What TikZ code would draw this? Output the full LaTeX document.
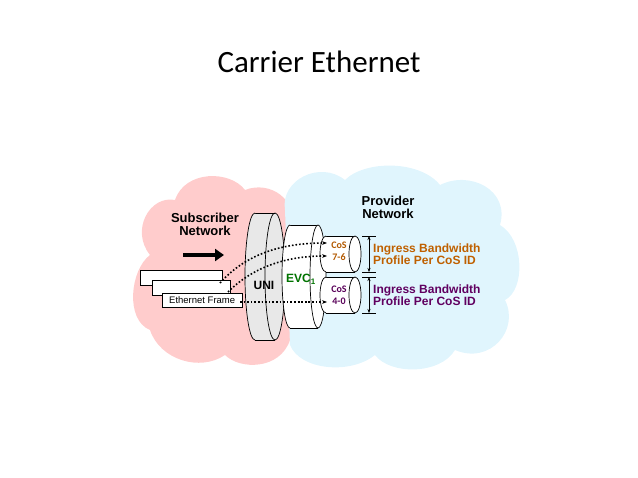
\documentclass[tikz,border=0pt]{standalone}
\usepackage{fontspec}
\setmainfont{Carlito}
\newfontfamily\lab{Liberation Sans}
\usetikzlibrary{arrows.meta}
\begin{document}
\begin{tikzpicture}[x=1pt,y=-1pt,
 dot/.style={line width=1.6pt,dotted,-{Stealth[length=5pt]}},
 cyl/.style={draw,line width=0.7pt},
 blab/.style={font=\lab\bfseries\fontsize{12}{12.5}\selectfont,align=left,anchor=west,inner sep=0pt}]
\useasboundingbox (0,0) rectangle (638,478);
\node (title) at (319,62) {\fontsize{31}{31}\selectfont Carrier Ethernet};
% clouds
\fill[red!20] (150,330) .. controls (125,320) and (130,270) .. (150,255)
 .. controls (130,230) and (150,195) .. (175,200) .. controls (185,170) and (230,170) .. (245,190)
 .. controls (270,180) and (300,200) .. (290,230) -- (290,340)
 .. controls (280,370) and (240,370) .. (225,355) .. controls (200,372) and (160,360) .. (150,330) -- cycle;
\fill[cyan!12] (285,210) .. controls (280,180) and (320,160) .. (345,180)
 .. controls (365,160) and (420,160) .. (440,185) .. controls (470,170) and (510,190) .. (500,225)
 .. controls (525,240) and (525,290) .. (505,300) .. controls (520,330) and (490,365) .. (455,350)
 .. controls (440,375) and (390,375) .. (375,355) .. controls (350,375) and (300,370) .. (290,345) -- cycle;
\node[blab,anchor=center,align=center,font=\lab\bfseries\fontsize{13}{13}\selectfont] (sub) at (205,224) {Subscriber\\Network};
\node[blab,anchor=center,align=center,font=\lab\bfseries\fontsize{13}{13}\selectfont] (prov) at (388,207) {Provider\\Network};
\coordinate (a1) at (183,255); \coordinate (a2) at (224,255);
\draw[line width=3.5pt,-{Triangle[length=9pt,width=12pt]}] (a1) -- (a2);
% frames
\node[draw,fill=white,minimum width=82,minimum height=15,anchor=north west] (f1) at (140,270) {};
\node[draw,fill=white,minimum width=78,minimum height=15,anchor=north west] (f2) at (152,280) {};
\node[draw,fill=white,minimum width=80,minimum height=14,anchor=north west,inner sep=0pt,font=\lab\fontsize{9.5}{9.5}\selectfont] (f3) at (162,293) {Ethernet Frame};
% UNI
\fill[gray!18] (255,213) rectangle (275,340);
\draw[cyl,fill=gray!18] (275,276.5) ellipse (10 and 63.5);
\draw[cyl] (255,213) -- (275,213) (255,340) -- (275,340);
\draw[cyl,fill=gray!18] (255,213) arc (270:90:10 and 63.5);
\node[blab,anchor=center] (uni) at (264,285) {UNI};
% EVC
\fill[white] (290,225) rectangle (318,328);
\draw[cyl] (290,225) -- (318,225) (290,328) -- (318,328);
\draw[cyl,fill=white] (290,225) arc (270:90:8 and 51.5);
\draw[cyl,fill=white] (318,276.5) ellipse (8 and 51.5);
\node[blab,anchor=center,text=green!45!black] (evc) at (301,279) {EVC\textsubscript{1}};
% CoS cylinders
\foreach \n/\t/\b in {u/236/272,l/277/313}{
 \fill[white] (326,\t) rectangle (355,\b);
 \draw[cyl] (326,\t) -- (355,\t) (326,\b) -- (355,\b);
 \draw[cyl,fill=white] (326,\t) arc (270:90:6 and {(\b-\t)/2});
 \draw[cyl,fill=white] (355,{(\t+\b)/2}) ellipse (6 and {(\b-\t)/2});
}
\node[font=\bfseries\fontsize{10}{12}\selectfont,align=center,text=orange!70!black] (c1) at (339,251) {CoS\\7-6};
\node[font=\bfseries\fontsize{10}{12}\selectfont,align=center,text=violet!70!black] (c2) at (339,295) {CoS\\4-0};
% brackets
\draw[thin] (362,236) -- (376,236) (362,272) -- (376,272) (362,277) -- (376,277) (362,313) -- (376,313);
\draw[thin,{Stealth[length=4pt]}-{Stealth[length=4pt]}] (369,236) -- (369,272);
\draw[thin,{Stealth[length=4pt]}-{Stealth[length=4pt]}] (369,277) -- (369,313);
\node[blab,text=orange!75!black] (l1) at (373,254) {Ingress Bandwidth\\Profile Per CoS ID};
\node[blab,text=violet!75!black] (l2) at (373,295) {Ingress Bandwidth\\Profile Per CoS ID};
% dotted
\coordinate (d1) at (220,283); \coordinate (d2) at (228,292); \coordinate (d3) at (240,302);
\coordinate (e1) at (327,243); \coordinate (e2) at (327,256); \coordinate (e3) at (327,302);
\draw[dot] (d1) .. controls (245,255) and (280,243) .. (e1);
\draw[dot] (d2) .. controls (255,265) and (290,256) .. (e2);
\draw[dot] (d3) .. controls (270,302) .. (e3);
\end{tikzpicture}
\end{document}
